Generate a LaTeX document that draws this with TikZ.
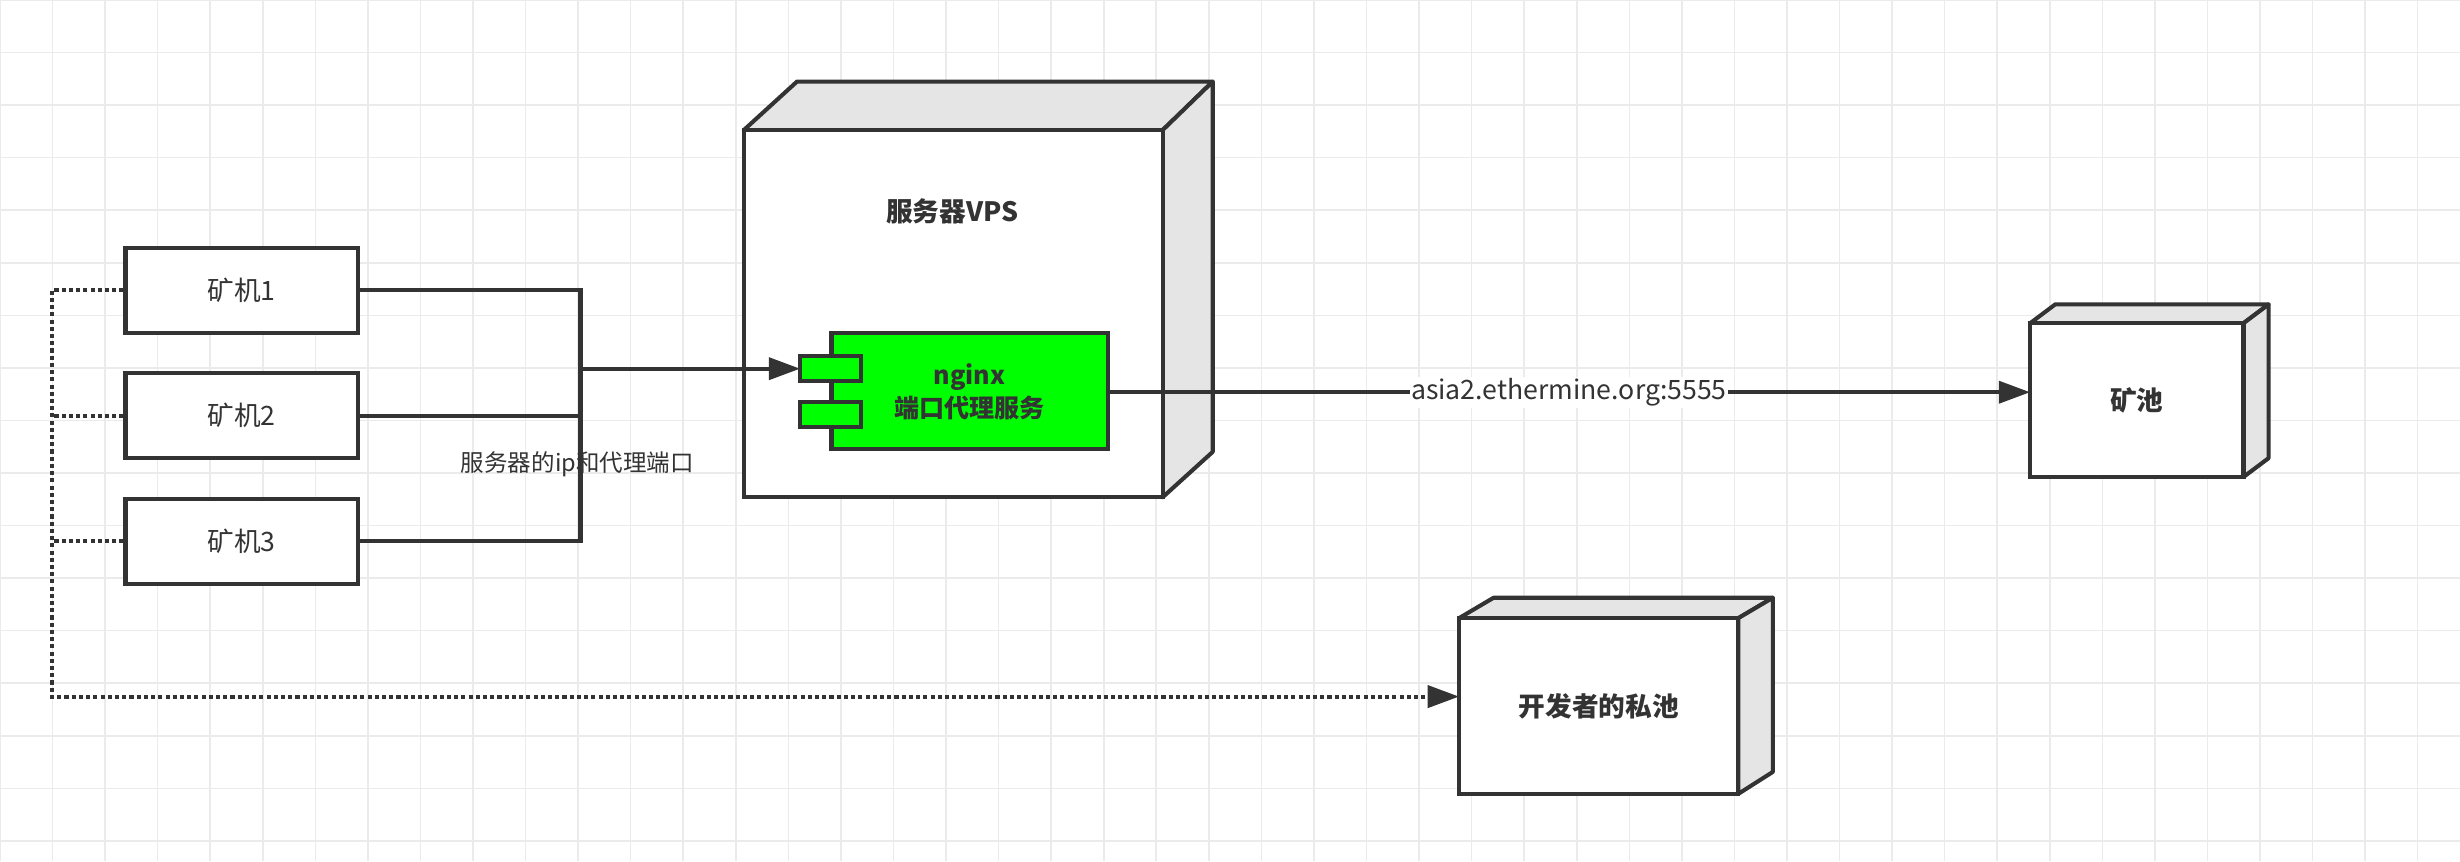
\documentclass[tikz,border=0pt]{standalone}
\usepackage{fontspec}
\setmainfont{Noto Sans CJK SC}
\usetikzlibrary{arrows.meta}
\begin{document}
\begin{tikzpicture}[x=1pt,y=-1pt,
  ln/.style={draw=black!80,line width=2.6pt},
  box/.style={ln,fill=white},
  side/.style={ln,fill=black!10,line join=round},
  tip/.style={-{Triangle[length=20pt,width=14pt]}},
  txt/.style={font=\fontsize{17}{20}\selectfont,text=black!80},
  btxt/.style={font=\fontsize{17}{22}\selectfont\bfseries,text=black!80,align=center}]
\fill[white] (0,0) rectangle (1568,549);
\useasboundingbox (0,0) rectangle (1568,549);
\foreach \x in {0,33.5,...,1568} \draw[black!8,line width=1pt] (\x,0) -- (\x,549);
\foreach \y in {0,33.5,...,549} \draw[black!8,line width=1pt] (0,\y) -- (1568,\y);
% VPS
\draw[side] (474,83) -- (508,52) -- (773,52) -- (741,83) -- cycle;
\draw[side] (741,83) -- (773,52) -- (773,288) -- (741,317) -- cycle;
\draw[box] (474,83) rectangle (741,317);
\node[btxt] (vps) at (607,135) {服务器VPS};
\draw[ln,fill=green] (530,212) rectangle (706,286);
\node[btxt,font=\fontsize{16}{21}\selectfont\bfseries] (ng) at (618,250) {nginx\\端口代理服务};
\draw[ln,fill=green] (510,227) rectangle (549,243);
\draw[ln,fill=green] (510,256) rectangle (549,272);
\coordinate (port) at (510,235);
\coordinate (ngout) at (706,250);
% pool
\draw[side] (1294,206) -- (1310,194) -- (1446,194) -- (1430,206) -- cycle;
\draw[side] (1430,206) -- (1446,194) -- (1446,292) -- (1430,304) -- cycle;
\draw[box] (1294,206) rectangle (1430,304);
\node[btxt] (pool) at (1362,255) {矿池};
\coordinate (poolin) at (1294,250);
% private pool
\draw[side] (930,394) -- (952,381) -- (1130,381) -- (1108,394) -- cycle;
\draw[side] (1108,394) -- (1130,381) -- (1130,492) -- (1108,506) -- cycle;
\draw[box] (930,394) rectangle (1108,506);
\node[btxt] (priv) at (1019,450) {开发者的私池};
\coordinate (privin) at (930,444);
% miners
\foreach \i/\y in {1/185,2/265,3/345}{
  \node[box,minimum width=148pt,minimum height=54pt,txt,inner sep=0pt] (m\i) at (154,\y) {矿机\i};
}
\coordinate (j) at (370,235);
\draw[ln] (m1.east) -- (370,185) -- (370,345) -- (m3.east);
\draw[ln] (m2.east) -- (370,265);
\draw[ln,tip] (j) -- (port);
\node[txt,font=\fontsize{15}{18}\selectfont] (lab) at (368,296) {服务器的ip和代理端口};
\draw[ln,tip] (ngout) -- (poolin) node[pos=0.5,fill=white,txt,inner sep=1pt,pos=0.5] (al) {asia2.ethermine.org:5555};
% dotted
\draw[ln,dotted,tip] (m1.west) -- (33,185) -- (33,444) -- (privin);
\draw[ln,dotted] (m2.west) -- (33,265);
\draw[ln,dotted] (m3.west) -- (33,345);
\end{tikzpicture}
\end{document}
